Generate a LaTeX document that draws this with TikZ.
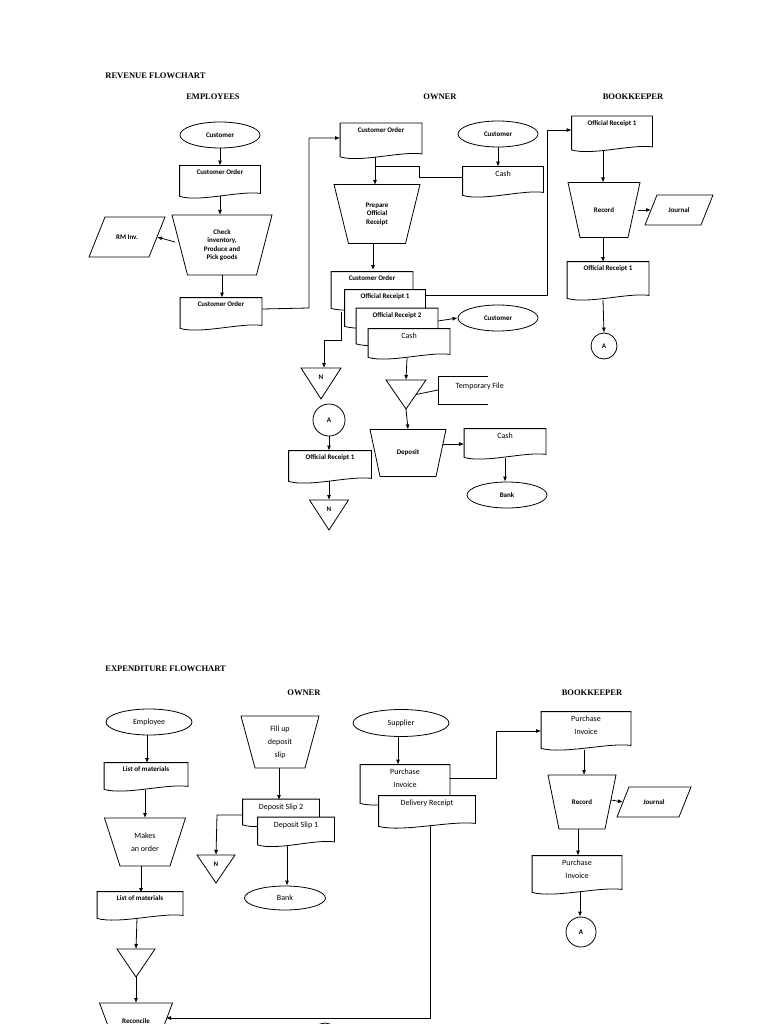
\documentclass[tikz,border=0pt]{standalone}
\usepackage{fontspec}
\setmainfont{Carlito}
\newfontfamily\ttlfont{Liberation Serif}
\usetikzlibrary{shapes.geometric,arrows.meta,calc}
\tikzset{
  arr/.style={-{Latex[length=5pt,width=4pt]}},
  ln/.style={line width=0.8pt},
  rv/.style={font=\fontsize{7}{8.5}\selectfont\bfseries},
  ex/.style={font=\fontsize{8}{13}\selectfont},
  ttl/.style={font=\ttlfont\fontsize{8.5}{10}\selectfont\bfseries, inner sep=0pt},
  ell/.style={ellipse, draw, fill=white, inner sep=0pt},
  box/.style={rectangle, inner sep=0pt},
}
% document: name, cx, cy, w, h, text, style
\newcommand\docu[7]{%
  \path node[box, minimum width=#4pt, minimum height=#5pt] (#1) at (#2,#3) {};
  \draw[fill=white] (#1.north west) -- (#1.south west)
    .. controls ($(#1.south west)!0.5!(#1.south)+(0,6)$) and ($(#1.south)!0.5!(#1.south east)+(0,-6)$) .. ($(#1.south east)+(0,-3)$)
    -- (#1.north east) -- cycle;
  \node[#7, anchor=north, align=center, inner sep=0pt] at ($(#1.north)+(0,4)$) {#6};}
% manual op trapezoid: name, cx, cy, topw, botw, h, text, style
\newcommand\manop[8]{%
  \pgfmathsetmacro\ta{#4/2}\pgfmathsetmacro\tb{#5/2}\pgfmathsetmacro\th{#6/2}%
  \draw[fill=white] (#2-\ta,#3-\th) -- (#2+\ta,#3-\th) -- (#2+\tb,#3+\th) -- (#2-\tb,#3+\th) -- cycle;
  \node[#8, align=center] (#1) at (#2,#3) {#7};
  \coordinate (#1-n) at (#2,#3-\th); \coordinate (#1-s) at (#2,#3+\th);}
% merge triangle: name, cx, topy, w, h, label
\newcommand\merge[6]{%
  \pgfmathsetmacro\ta{#4/2}%
  \draw[fill=white] (#2-\ta,#3) -- (#2+\ta,#3) -- (#2,#3+#5) -- cycle;
  \coordinate (#1-n) at (#2,#3); \coordinate (#1-s) at (#2,#3+#5);
  \coordinate (#1-e) at (#2+\ta/2,#3+#5/2);
  \node[font=\fontsize{7}{8}\selectfont\bfseries] (#1) at (#2,#3+9) {#6};}
% parallelogram: name, cx, cy, w, h, slant, text, style
\newcommand\para[8]{%
  \pgfmathsetmacro\ta{#4/2}\pgfmathsetmacro\th{#5/2}\pgfmathsetmacro\ts{#6/2}%
  \draw[fill=white] (#2-\ta+\ts,#3-\th) -- (#2+\ta+\ts,#3-\th) -- (#2+\ta-\ts,#3+\th) -- (#2-\ta-\ts,#3+\th) -- cycle;
  \node[#8] (#1) at (#2,#3) {#7};
  \coordinate (#1-w) at (#2-\ta,#3); \coordinate (#1-e) at (#2+\ta,#3);}
\begin{document}
\begin{tikzpicture}[x=1pt,y=-1pt,line width=0.8pt]
\useasboundingbox (0,0) rectangle (768,1024);
\clip (0,0) rectangle (768,1024);
% ===== REVENUE =====
\node[ttl, anchor=west] (t1) at (105,76) {REVENUE FLOWCHART};
\node[ttl] (h1) at (213,97) {EMPLOYEES};
\node[ttl] (h2) at (440,97) {OWNER};
\node[ttl] (h3) at (633,97) {BOOKKEEPER};
% employees
\node[ell, rv, minimum width=80pt, minimum height=26pt] (ec) at (220,135) {Customer};
\docu{eco1}{220}{181}{80}{30}{Customer Order}{rv}
\manop{chk}{222}{245}{100}{69}{60}{Check\\inventory,\\Produce and\\Pick goods}{rv}
\para{rm}{127}{237}{60}{40}{16}{RM Inv.}{rv}
\docu{eco2}{221}{313}{81}{30}{Customer Order}{rv}
\draw[arr] (ec.south) -- (ec.south |- eco1.north);
\draw[arr] (eco1.south) -- (eco1.south |- chk-n);
\draw[arr] (175,242) -- (rm-e);
\draw[arr] (chk-s) -- (chk-s |- eco2.north);
% owner
\docu{oco}{381}{140}{81}{33}{Customer Order}{rv}
\node[ell, rv, minimum width=80pt, minimum height=26pt] (oc) at (498,134) {Customer};
\docu{ocash}{503}{181}{80}{28}{Cash}{ex}
\draw[arr] (oc.south) -- (oc.south |- ocash.north);
\draw[arr] (eco2.east) ++(0,-4) coordinate (p1) -- (309,308) -- (309,138) -- (oco.west |- 0,138);
\manop{prep}{377}{214}{86}{57}{59}{Prepare\\Official\\Receipt}{rv}
\draw[arr] (375,157) -- (375,185);
\draw (375,166) -- (419,166) -- (419,177) -- (ocash.west |- 0,177);
\draw[arr] (373,244) -- (373,270);
% stack
\docu{sco}{372}{290}{81}{36}{Customer Order}{rv}
\docu{sor1}{385}{308}{80}{36}{Official Receipt 1}{rv}
\docu{sor2}{397}{326}{81}{35}{Official Receipt 2}{rv}
\docu{scash}{409}{343}{81}{28}{Cash}{ex}
\node[ell, rv, minimum width=80pt, minimum height=26pt] (sc) at (498,318) {Customer};
\draw[arr] (sor2.east |- 0,321) -- (sc.west);
% bookkeeper
\docu{bor1}{612}{133}{80}{33}{Official Receipt 1}{rv}
\draw[arr] (sor1.east |- 0,295) -- (547,295) -- (547,130) -- (bor1.west |- 0,130);
\manop{rec}{604}{210}{72}{48}{55}{Record}{rv}
\para{jr}{679}{210}{56}{30}{12}{Journal}{rv}
\draw[arr] (603,150) -- (rec-n -| 603,0);
\draw[arr] (638,210) -- (jr-w);
\docu{bor2}{608}{280}{81}{36}{Official Receipt 1}{rv}
\draw[arr] (603,237) -- (603,262);
\node[circle, draw, minimum size=26pt, inner sep=0pt, rv] (ba) at (604,346) {A};
\draw[arr] (603,300) -- (ba.north);
% lower owner
\merge{n1}{321}{368}{40}{31}{N}
\draw[arr] (341,312) -- (341,340) -- (324,340) -- (324,368);
\merge{tm}{406}{380}{40}{29}{}
\draw[arr] (407,358) -- (tm-n);
\draw (tm-e) -- (438,390);
\draw (488,376) -- (438,376) -- (438,404) -- (488,404);
\node[ex, anchor=west] (tf) at (452,386) {Temporary File};
\manop{dep}{408}{453}{76}{56}{47}{Deposit}{rv}
\draw[arr] (tm-s) -- (dep-n);
\docu{dcash}{505}{443}{81}{28}{Cash}{ex}
\draw[arr] (443,444) -- (dcash.west |- 0,444);
\node[ell, rv, minimum width=80pt, minimum height=26pt] (bank1) at (507,495) {Bank};
\draw[arr] (505,458) -- (bank1.north -| 505,0);
\node[circle, draw, minimum size=32pt, inner sep=0pt, rv] (oa) at (329,420) {A};
\docu{oor}{330}{466}{82}{30}{Official Receipt 1}{rv}
\draw[arr] (oa.south) -- (oa.south |- oor.north);
\merge{n2}{329}{500}{39}{30}{N}
\draw[arr] (329,481) -- (n2-n);
% ===== EXPENDITURE =====
\node[ttl, anchor=west] (t2) at (105,669) {EXPENDITURE FLOWCHART};
\node[ttl] (h4) at (304,693) {OWNER};
\node[ttl] (h5) at (592,693) {BOOKKEEPER};
\node[ell, ex, minimum width=86pt, minimum height=26pt] (emp) at (149,722) {Employee};
\docu{lom1}{146}{776}{83}{26}{List of materials}{rv}
\manop{mk}{145}{842}{81}{50}{48}{Makes\\an order}{ex}
\docu{lom2}{140}{905}{85}{26}{List of materials}{rv}
\merge{tr}{136}{949}{38}{28}{}
\manop{rcn}{136}{1025}{73}{40}{44}{\raisebox{7pt}{Reconcile}}{rv}
\draw[arr] (emp.south -| 147,0) -- (147,763);
\draw[arr] (145,790) -- (mk-n);
\draw[arr] (141,866) -- (141,893);
\draw[arr] (137,918) -- (tr-n);
\draw[arr] (tr-s) -- (rcn-n);
\manop{fill}{280}{742}{78}{50}{52}{Fill up\\deposit\\slip}{ex}
\docu{ds2}{281}{812}{76}{25}{Deposit Slip 2}{ex}
\docu{ds1}{296}{831}{76}{27}{Deposit Slip 1}{ex}
\draw[arr] (fill-s -| 279,0) -- (279,800);
\merge{n3}{216}{855}{38}{28}{N}
\draw[arr] (ds2.west |- 0,815) -- (217,815) -- (n3-n);
\node[ell, ex, minimum width=81pt, minimum height=24pt] (bank2) at (285,898) {Bank};
\draw[arr] (287,845) -- (bank2.north -| 287,0);
\node[ell, ex, minimum width=96pt, minimum height=27pt] (sup) at (401,723) {Supplier};
\docu{pi1}{405}{784}{89}{38}{Purchase\\Invoice}{ex}
\docu{dr}{427}{811}{96}{30}{Delivery Receipt}{ex}
\draw[arr] (sup.south -| 398,0) -- (pi1.north -| 398,0);
\docu{pi2}{586}{730}{89}{36}{Purchase\\Invoice}{ex}
\draw[arr] (pi1.east |- 0,778) -- (496,778) -- (496,731) -- (pi2.west |- 0,731);
\manop{rec2}{582}{802}{68}{46}{54}{Record}{rv}
\para{jr2}{654}{802}{62}{30}{12}{Journal}{rv}
\draw[arr] (584,750) -- (rec2-n -| 584,0);
\draw[arr] (611,800) -- (jr2-w);
\docu{pi3}{577}{874}{89}{36}{Purchase\\Invoice}{ex}
\draw[arr] (578,829) -- (pi3.north -| 578,0);
\node[circle, draw, minimum size=30pt, inner sep=0pt, rv] (ea) at (581,932) {A};
\draw[arr] (580,892) -- (ea.north -| 580,0);
\draw[arr] (430,826) -- (430,1018) -- (166,1018);
\node[circle, draw, minimum size=26pt, inner sep=0pt] (ec2) at (325,1036) {};
\end{tikzpicture}
\end{document}
